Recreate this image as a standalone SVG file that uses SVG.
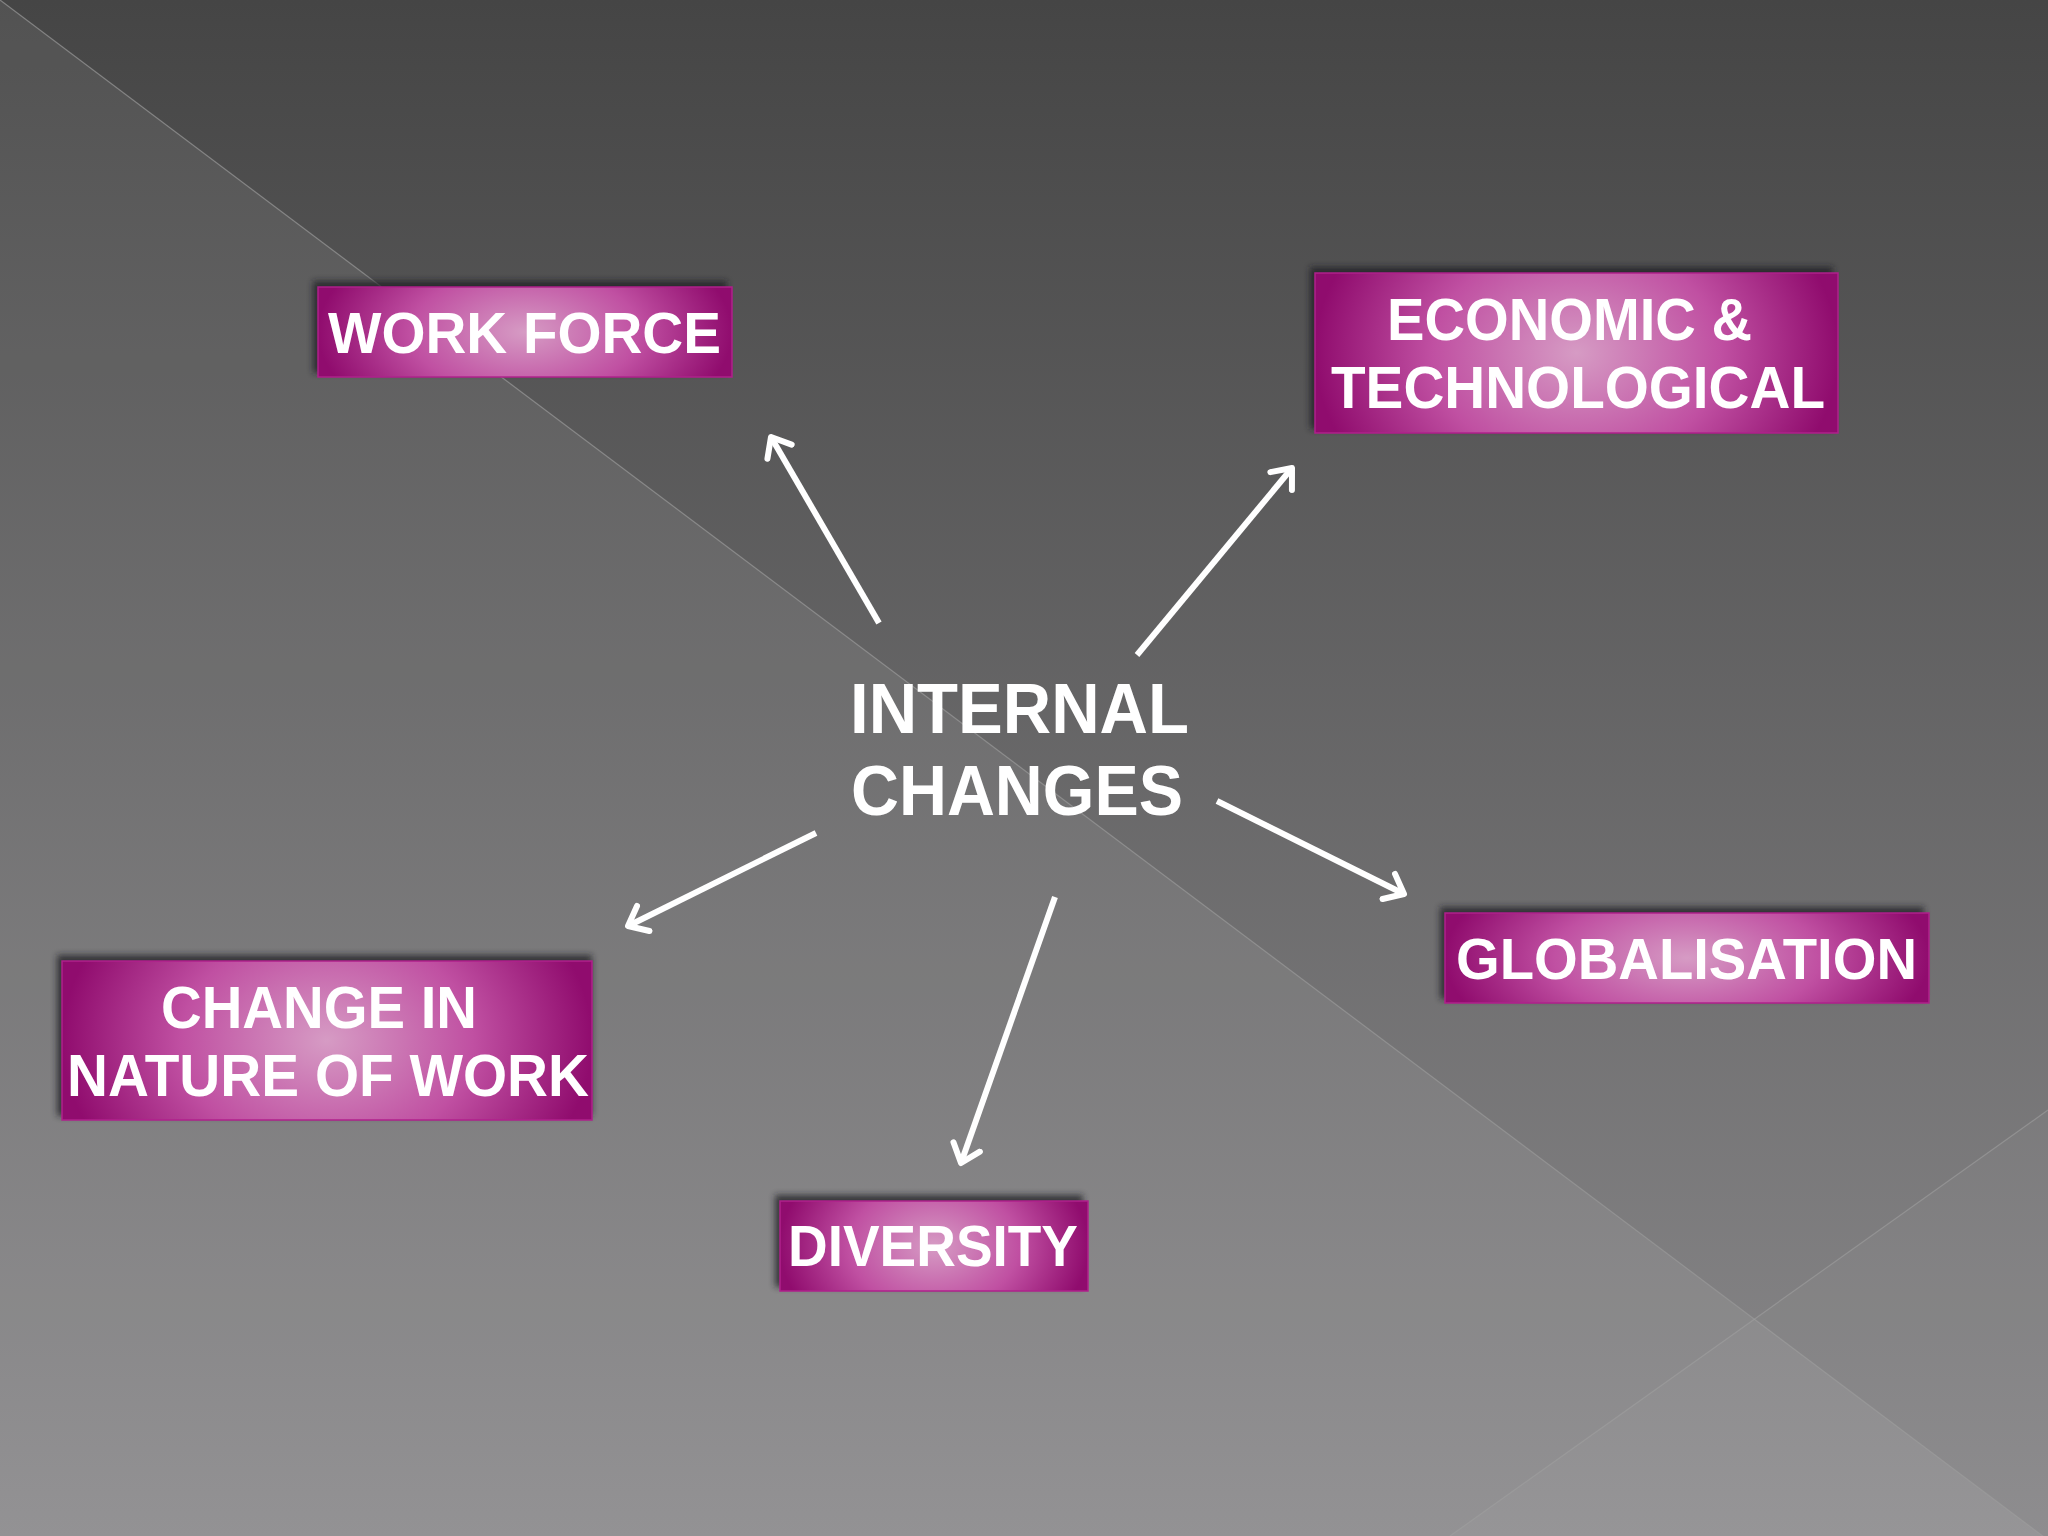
<svg xmlns="http://www.w3.org/2000/svg" width="2048" height="1536" viewBox="0 0 2048 1536">
<style>
.lbl{font-family:"Liberation Sans",Arial,sans-serif;font-weight:bold;fill:#ffffff;font-size:57px}
.big{font-size:60px}
.ctr{font-family:"Liberation Sans",Arial,sans-serif;font-weight:bold;fill:#ffffff;font-size:70px}
.box{fill:url(#mag);stroke:#b0208c;stroke-width:1.5}
.shd{fill:#1e1e24;opacity:0.75;filter:url(#blur)}
.arr{stroke:#ffffff;stroke-width:6;fill:none;stroke-linecap:butt;marker-end:url(#head)}
</style>
<defs>
<linearGradient id="bg" x1="0" y1="0" x2="0" y2="1">
<stop offset="0" stop-color="#454545"/>
<stop offset="1" stop-color="#8b8a8c"/>
</linearGradient>
<radialGradient id="mag" cx="0.5" cy="0.5" r="0.5" gradientTransform="translate(0.5 0.5) scale(1 2.5) translate(-0.5 -0.5)">
<stop offset="0" stop-color="#d69bc4"/>
<stop offset="0.55" stop-color="#c050a2"/>
<stop offset="1" stop-color="#900c6e"/>
</radialGradient>
<filter id="blur" x="-10%" y="-30%" width="120%" height="160%"><feGaussianBlur stdDeviation="3"/></filter>
<marker id="head" markerUnits="userSpaceOnUse" markerWidth="40" markerHeight="40" refX="20" refY="20" orient="auto" viewBox="0 0 40 40">
<path d="M3,6 L20,20 L3,34" fill="none" stroke="#ffffff" stroke-width="6" stroke-linecap="round" stroke-linejoin="round"/>
</marker>
</defs>
<rect x="0" y="0" width="2048" height="1536" fill="url(#bg)"/>
<polygon points="0,0 2048,1540 2048,1536 0,1536" fill="#ffffff" opacity="0.07"/>
<line x1="0" y1="0" x2="2048" y2="1540" stroke="#9a9a9a" stroke-width="1.2" opacity="0.7"/>
<polygon points="2048,1110 1450,1536 2048,1536" fill="#ffffff" opacity="0.03"/>
<line x1="2048" y1="1110" x2="1450" y2="1536" stroke="#a0a0a0" stroke-width="1.2" opacity="0.6"/>

<g id="connectors">
<line class="arr" x1="879" y1="623" x2="771" y2="437"/>
<line class="arr" x1="1137" y1="655" x2="1292" y2="468"/>
<line class="arr" x1="1217" y1="801" x2="1404" y2="894"/>
<line class="arr" x1="1055" y1="897" x2="961" y2="1163"/>
<line class="arr" x1="816" y1="833" x2="628" y2="926"/>
</g>

<g id="node-center">
<text class="ctr" x="850" y="733" textLength="339" lengthAdjust="spacingAndGlyphs">INTERNAL</text>
<text class="ctr" x="851" y="815" textLength="332" lengthAdjust="spacingAndGlyphs">CHANGES</text>
</g>

<g id="node-workforce">
<rect class="shd" x="313" y="281" width="414" height="92"/>
<rect class="box" x="318" y="287" width="414" height="90"/>
<text class="lbl" x="328" y="353" textLength="393" lengthAdjust="spacingAndGlyphs">WORK FORCE</text>
</g>

<g id="node-economic">
<rect class="shd" x="1310" y="267" width="523" height="162"/>
<rect class="box" x="1315" y="273" width="523" height="160"/>
<text class="lbl big" x="1387" y="340" textLength="365" lengthAdjust="spacingAndGlyphs">ECONOMIC &amp;</text>
<text class="lbl big" x="1331" y="408" textLength="494" lengthAdjust="spacingAndGlyphs">TECHNOLOGICAL</text>
</g>

<g id="node-globalisation">
<rect class="shd" x="1440" y="907" width="484" height="92"/>
<rect class="box" x="1445" y="913" width="484" height="90"/>
<text class="lbl" x="1456" y="979" textLength="461" lengthAdjust="spacingAndGlyphs">GLOBALISATION</text>
</g>

<g id="node-nature">
<rect class="shd" x="57" y="955" width="535" height="161"/>
<rect class="box" x="62" y="961" width="530" height="159"/>
<text class="lbl big" x="161" y="1028" textLength="316" lengthAdjust="spacingAndGlyphs">CHANGE IN</text>
<text class="lbl big" x="67" y="1096" textLength="522" lengthAdjust="spacingAndGlyphs">NATURE OF WORK</text>
</g>

<g id="node-diversity">
<rect class="shd" x="775" y="1195" width="308" height="92"/>
<rect class="box" x="780" y="1201" width="308" height="90"/>
<text class="lbl" x="788" y="1266" textLength="290" lengthAdjust="spacingAndGlyphs">DIVERSITY</text>
</g>
</svg>
